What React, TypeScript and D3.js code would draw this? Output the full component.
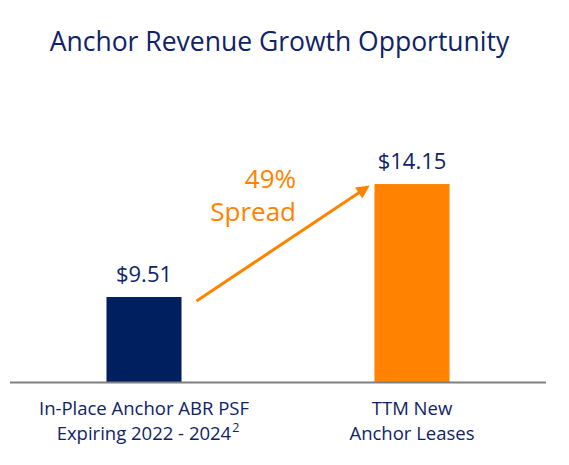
import * as d3 from "d3";

const title = "Anchor Revenue Growth Opportunity";
const categories = ["inplace", "ttm"];
const categoryLines = [
  ["In-Place Anchor ABR PSF", "Expiring 2022 - 2024"],
  ["TTM New", "Anchor Leases"],
];
const footnotes = ["2", ""];
const values = [9.51, 14.15];
const valueLabels = ["$9.51", "$14.15"];
const spreadLabel = ["49%", "Spread"];

const W = 569;
const H = 465;
const NAVY = "#001f5f";
const TEXT = "#0f2366";
const ORANGE = "#ff8300";
const FONT = "'Segoe UI', 'Open Sans', sans-serif";

export default function App() {
  const baseY = 382.5;

  const x = d3
    .scaleBand()
    .domain(categories)
    .range([10, 546])
    .paddingInner(0.72)
    .paddingOuter(0.36);

  const y = d3.scaleLinear().domain([6, 16]).range([baseY, 139]);

  const bw = x.bandwidth();
  const colors = [NAVY, ORANGE];

  // arrow from first bar to second
  const ax1 = x(categories[0])! + bw + 15;
  const ay1 = y(values[0]) + 4;
  const ax2 = x(categories[1])! - 7;
  const ay2 = y(values[1]) + 3;

  return (
    <svg width={W} height={H} style={{ position: "absolute", left: 0, top: 0 }} fontFamily={FONT}>
      <defs>
        <marker
          id="head"
          viewBox="0 0 10 10"
          refX={8}
          refY={5}
          markerWidth={5}
          markerHeight={4.4}
          orient="auto"
          markerUnits="strokeWidth"
        >
          <path d="M0,0 L10,5 L0,10 z" fill={ORANGE} />
        </marker>
      </defs>
      <rect width={W} height={H} fill="#fff" />

      <text x={279.5} y={51} textAnchor="middle" fontSize={26.5} fill={TEXT}>
        {title}
      </text>

      {categories.map((c, i) => (
        <g key={c}>
          <rect
            x={x(c)}
            y={y(values[i])}
            width={bw}
            height={baseY - y(values[i])}
            fill={colors[i]}
          />
          <text
            x={x(c)! + bw / 2}
            y={y(values[i]) - 15}
            textAnchor="middle"
            fontSize={22}
            fill={TEXT}
          >
            {valueLabels[i]}
          </text>
          <text textAnchor="middle" fontSize={18.5} fill={TEXT}>
            <tspan x={x(c)! + bw / 2} y={baseY + 32}>
              {categoryLines[i][0]}
            </tspan>
            <tspan x={x(c)! + bw / 2 + (footnotes[i] ? 4 : 0)} y={baseY + 57}>
              {categoryLines[i][1]}
              {footnotes[i] && (
                <tspan dx={1} dy={-8} fontSize={12.5}>
                  {footnotes[i]}
                </tspan>
              )}
            </tspan>
          </text>
        </g>
      ))}

      <line x1={10} x2={546} y1={baseY} y2={baseY} stroke="#808080" strokeWidth={2} />

      <line
        x1={ax1}
        y1={ay1}
        x2={ax2}
        y2={ay2}
        stroke={ORANGE}
        strokeWidth={3}
        markerEnd="url(#head)"
      />

      <text textAnchor="end" fontSize={26} fill={ORANGE}>
        <tspan x={296} y={188}>
          {spreadLabel[0]}
        </tspan>
        <tspan x={296} y={221}>
          {spreadLabel[1]}
        </tspan>
      </text>
    </svg>
  );
}
